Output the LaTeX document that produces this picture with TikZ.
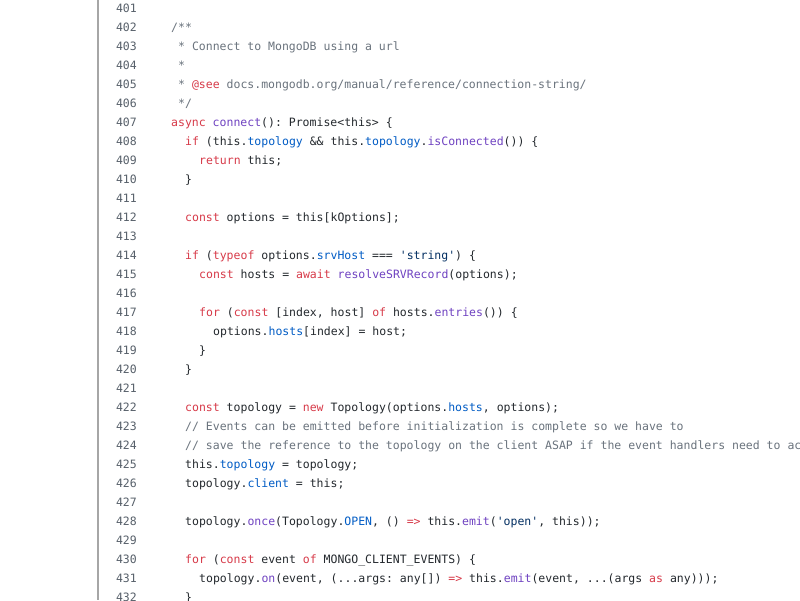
\documentclass[tikz,border=0pt]{standalone}
\usepackage{fontspec}
\setmonofont{DejaVu Sans Mono}
\definecolor{kwcol}{HTML}{D73A49}
\definecolor{fncol}{HTML}{6F42C1}
\definecolor{prcol}{HTML}{005CC5}
\definecolor{stcol}{HTML}{032F62}
\definecolor{cmcol}{HTML}{6A737D}
\definecolor{txcol}{HTML}{24292E}
\definecolor{nocol}{HTML}{57606A}
\newcommand{\kw}[1]{\textcolor{kwcol}{#1}}
\newcommand{\fn}[1]{\textcolor{fncol}{#1}}
\newcommand{\pr}[1]{\textcolor{prcol}{#1}}
\newcommand{\st}[1]{\textcolor{stcol}{#1}}
\newcommand{\cm}[1]{\textcolor{cmcol}{#1}}
\tikzset{
  codeline/.style={anchor=base west, inner sep=0pt, font=\ttfamily\fontsize{11.5}{14}\selectfont, text=txcol},
  lineno/.style={anchor=base east, inner sep=0pt, font=\ttfamily\fontsize{11.5}{14}\selectfont, text=nocol}
}
\begin{document}
\begin{tikzpicture}[x=1pt,y=-1pt]
    \useasboundingbox (0,0) rectangle (800,600);
    \fill[white] (0,0) rectangle (800,600);
    % gutter
    \draw[line width=1.2pt, gray!70] (98,0) -- (98,600);
    % code lines
    \foreach \n/\i/\val [evaluate=\n as \yy using {8+19*(\n-401)+4.5},
                         evaluate=\i as \xx using {171+7*\i}] in {
        401/0/{},
        402/0/{\cm{/**}},
        403/1/{\cm{* Connect to MongoDB using a url}},
        404/1/{\cm{*}},
        405/1/{\cm{*} \kw{@see} \cm{docs.mongodb.org/manual/reference/connection-string/}},
        406/1/{\cm{*/}},
        407/0/{\kw{async} \fn{connect}(): Promise<this> \{},
        408/2/{\kw{if} (this.\pr{topology} \&\& this.\pr{topology}.\fn{isConnected}()) \{},
        409/4/{\kw{return} this;},
        410/2/{\}},
        411/0/{},
        412/2/{\kw{const} options = this[kOptions];},
        413/0/{},
        414/2/{\kw{if} (\kw{typeof} options.\pr{srvHost} === \st{'string'}) \{},
        415/4/{\kw{const} hosts = \kw{await} \fn{resolveSRVRecord}(options);},
        416/0/{},
        417/4/{\kw{for} (\kw{const} [index, host] \kw{of} hosts.\fn{entries}()) \{},
        418/6/{options.\pr{hosts}[index] = host;},
        419/4/{\}},
        420/2/{\}},
        421/0/{},
        422/2/{\kw{const} topology = \kw{new} Topology(options.\pr{hosts}, options);},
        423/2/{\cm{// Events can be emitted before initialization is complete so we have to}},
        424/2/{\cm{// save the reference to the topology on the client ASAP if the event handlers need to access it}},
        425/2/{this.\pr{topology} = topology;},
        426/2/{topology.\pr{client} = this;},
        427/0/{},
        428/2/{topology.\fn{once}(Topology.\pr{OPEN}, () \kw{=>} this.\fn{emit}(\st{'open'}, this));},
        429/0/{},
        430/2/{\kw{for} (\kw{const} event \kw{of} MONGO\_CLIENT\_EVENTS) \{},
        431/4/{topology.\fn{on}(event, (...args: any[]) \kw{=>} this.\fn{emit}(event, ...(args \kw{as} any)));},
        432/2/{\}}
    } {
        \node[lineno] (n\n) at (137, \yy) {\n};
        \node[codeline] (c\n) at (\xx, \yy) {\val};
    }
\end{tikzpicture}
\end{document}
